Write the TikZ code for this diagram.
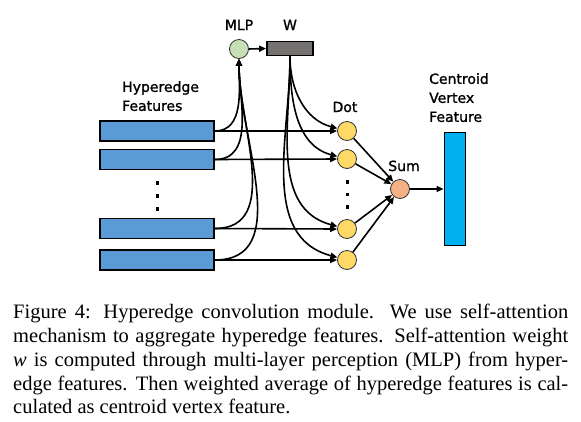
\documentclass[tikz,border=0pt]{standalone}
\usepackage{fontspec}
\setmainfont{Liberation Serif}
\newfontfamily\lblfont[FakeBold=1.2]{DejaVu Sans}
\usetikzlibrary{arrows.meta}
\definecolor{featblue}{HTML}{5B9BD5}
\definecolor{dotyellow}{HTML}{FFD966}
\definecolor{sumorange}{HTML}{F4B183}
\definecolor{mlpgreen}{HTML}{C5E0B4}
\definecolor{wgray}{HTML}{767171}
\definecolor{cyanbox}{HTML}{00B0F0}
\tikzset{
  featbox/.style={draw=black, line width=1.8pt, fill=featblue, minimum width=114pt, minimum height=20pt, inner sep=0},
  dotnode/.style={circle, draw=black!80, line width=0.8pt, fill=dotyellow, minimum size=19pt, inner sep=0},
  sumnode/.style={circle, draw=black!80, line width=0.8pt, fill=sumorange, minimum size=19pt, inner sep=0},
  mlpnode/.style={circle, draw=black!80, line width=0.8pt, fill=mlpgreen, minimum size=19pt, inner sep=0},
  lbl/.style={font=\lblfont\fontsize{14}{19}\selectfont, inner sep=0, align=left},
  conn/.style={line width=1.6pt, -{Triangle[length=7pt,width=6pt]}},
  vdot/.style={fill=black},
}
\begin{document}
\begin{tikzpicture}[x=1pt,y=-1pt]
\useasboundingbox (0,0) rectangle (581,421);
\fill[white] (0,0) rectangle (581,421);
% feature boxes
\node[featbox] (r1) at (157,131) {};
\node[featbox] (r2) at (157,159.5) {};
\node[featbox] (r3) at (157,228.5) {};
\node[featbox] (r4) at (157,260) {};
% dot circles
\node[dotnode] (d1) at (347,131) {};
\node[dotnode] (d2) at (347,159) {};
\node[dotnode] (d3) at (347,229) {};
\node[dotnode] (d4) at (347,260) {};
% sum
\node[sumnode] (sum) at (400,189) {};
% mlp and w
\node[mlpnode] (mlp) at (239,49) {};
\node[draw=black, line width=1.8pt, fill=wgray, minimum width=46pt, minimum height=14pt, inner sep=0] (w) at (290,48.5) {};
% centroid
\node[draw=black, line width=1.8pt, fill=cyanbox, minimum width=21pt, minimum height=113pt, inner sep=0] (cen) at (455,189) {};
% labels
\node[lbl, anchor=base] (lmlp) at (239,30) {MLP};
\node[lbl, anchor=base] (lw) at (290,30) {W};
\node[lbl, anchor=north west] (lhyp) at (122,81) {Hyperedge\\Features};
\node[lbl, anchor=base] (ldot) at (345,112) {Dot};
\node[lbl, anchor=base] (lsum) at (404,171) {Sum};
\node[lbl, anchor=north west] (lcen) at (429,73) {Centroid\\Vertex\\Feature};
% vertical dots
\foreach \y in {183,196,209} \fill[vdot] (155.5,\y-1.6) rectangle ++(3.2,3.2);
\foreach \y in {182,194.5,207} \fill[vdot] (345.5,\y-1.6) rectangle ++(3.2,3.2);
% connectors
\foreach \r/\d in {r1/d1,r2/d2,r3/d3,r4/d4}{
  \draw[conn] (\r.east) -- (\d.west);
  \draw[conn] (\r.east) to[out=0,in=-90] (mlp.south);
  \draw[conn] (w.south) to[out=-90,in=165] (\d);
  \draw[conn] (\d) -- (sum);
}
\draw[conn] (mlp.east) -- (w.west);
\draw[conn] (sum.east) -- (cen.west);
% caption
\node[anchor=north west, text width=555pt, align=justify, inner sep=0,
  font=\fontsize{20.5}{23.8}\selectfont] (cap) at (13,304)
{Figure 4: Hyperedge convolution module. We use self-attention\linebreak
mechanism to aggregate hyperedge features. Self-attention weight\linebreak
\textit{w} is computed through multi-layer perception (MLP) from hyper-\linebreak
edge features. Then weighted average of hyperedge features is cal-\linebreak
culated as centroid vertex feature.};
\end{tikzpicture}
\end{document}
